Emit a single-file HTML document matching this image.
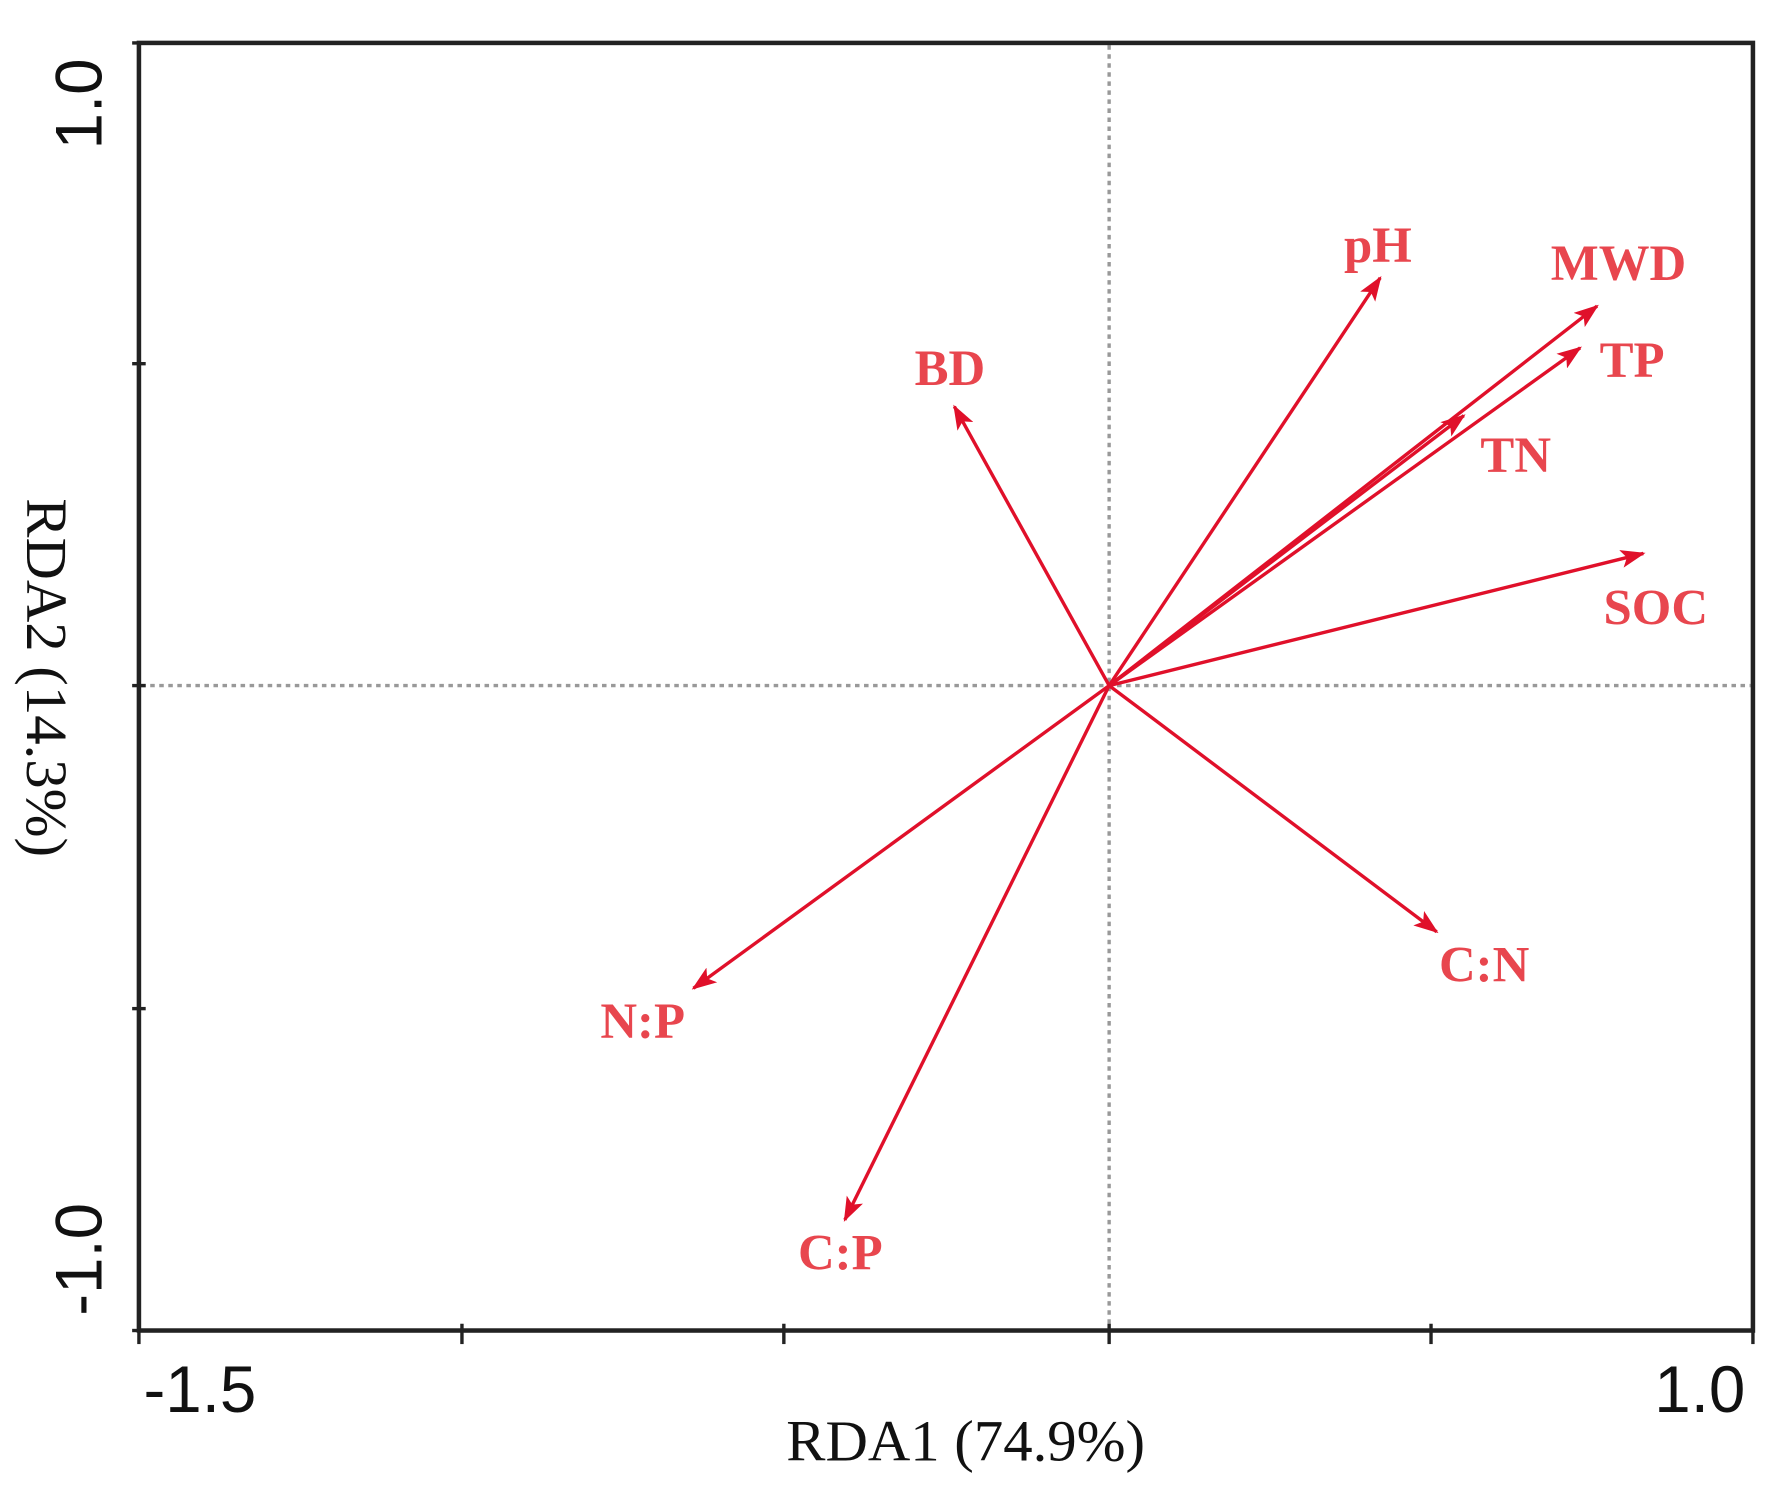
<!DOCTYPE html>
<html><head><style>html,body{margin:0;padding:0;background:#fff}</style></head>
<body>
<svg width="1771" height="1483" viewBox="0 0 1568 1313" preserveAspectRatio="none" xmlns="http://www.w3.org/2000/svg">
<defs>
<marker id="a2" markerWidth="22" markerHeight="16" refX="20" refY="8" orient="auto" markerUnits="userSpaceOnUse">
<path d="M0,0 L22,8 L0,16 L5,8 z" fill="#e0102a"/>
</marker>
</defs>
<rect x="0" y="0" width="1568" height="1313" fill="#fff"/>
<line x1="982" y1="40" x2="982" y2="1176" stroke="#999" stroke-width="3" stroke-dasharray="4,4"/>
<line x1="125" y1="607" x2="1550" y2="607" stroke="#999" stroke-width="3" stroke-dasharray="4,4"/>
<rect x="123" y="38" width="1429" height="1140" fill="none" stroke="#222" stroke-width="4"/>
<g stroke="#222" stroke-width="3">
<line x1="117" y1="322" x2="129" y2="322"/>
<line x1="117" y1="607" x2="129" y2="607"/>
<line x1="117" y1="893" x2="129" y2="893"/>
<line x1="117" y1="1178" x2="129" y2="1178"/>
<line x1="117" y1="38" x2="129" y2="38"/>
<line x1="409" y1="1172" x2="409" y2="1190"/>
<line x1="694" y1="1172" x2="694" y2="1190"/>
<line x1="982" y1="1172" x2="982" y2="1190"/>
<line x1="1267" y1="1172" x2="1267" y2="1190"/>
<line x1="1552" y1="1172" x2="1552" y2="1190"/>
<line x1="123" y1="1172" x2="123" y2="1190"/>
</g>
<g stroke="#e0102a" stroke-width="3" fill="none" marker-end="url(#a2)">
<line x1="982" y1="607" x2="1222" y2="246"/>
<line x1="982" y1="607" x2="1414" y2="271"/>
<line x1="982" y1="607" x2="1399" y2="308"/>
<line x1="982" y1="607" x2="1296" y2="368"/>
<line x1="982" y1="607" x2="1455" y2="490"/>
<line x1="982" y1="607" x2="845" y2="360"/>
<line x1="982" y1="607" x2="1272" y2="825"/>
<line x1="982" y1="607" x2="614" y2="875"/>
<line x1="982" y1="607" x2="748" y2="1080"/>
</g>
<g font-family="Liberation Serif, serif" font-weight="bold" font-size="45" fill="#e8464e" text-anchor="middle">
<text x="1220" y="232">pH</text>
<text x="1433" y="248">MWD</text>
<text x="1445" y="334">TP</text>
<text x="1342" y="418">TN</text>
<text x="1466" y="553">SOC</text>
<text x="841" y="341">BD</text>
<text x="1314" y="869">C:N</text>
<text x="569" y="919">N:P</text>
<text x="744" y="1124">C:P</text>
</g>
<g font-family="Liberation Sans, sans-serif" font-size="58" fill="#111">
<text x="177" y="1250" text-anchor="middle">-1.5</text>
<text x="1505" y="1250" text-anchor="middle">1.0</text>
<text transform="translate(90,92) rotate(-90)" text-anchor="middle">1.0</text>
<text transform="translate(90,1115) rotate(-90)" text-anchor="middle">-1.0</text>
</g>
<g font-family="Liberation Serif, serif" font-size="52" fill="#111" text-anchor="middle">
<text x="855" y="1293">RDA1 (74.9%)</text>
<text transform="translate(24,600) rotate(90)">RDA2 (14.3%)</text>
</g>
</svg>
</body></html>
